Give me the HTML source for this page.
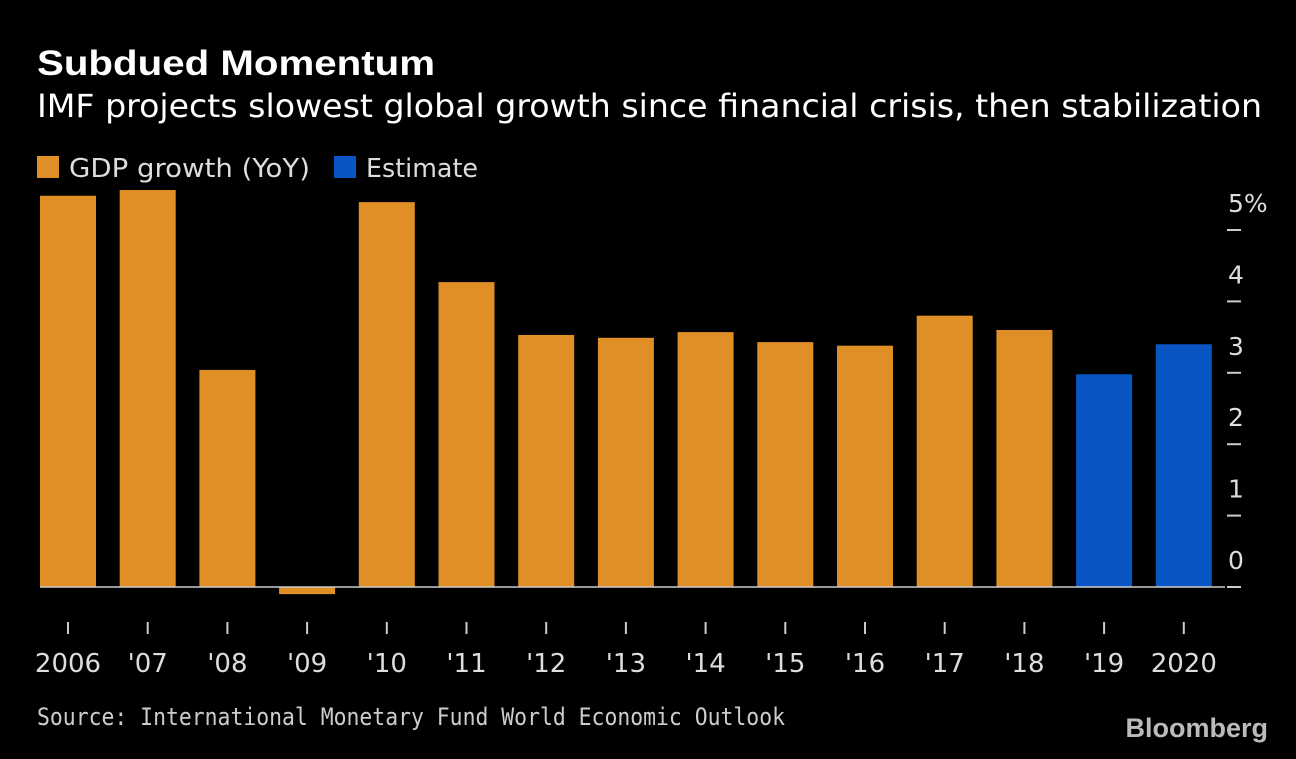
<!DOCTYPE html>
<html><head><meta charset="utf-8"><style>
body{margin:0;background:#000;width:1296px;height:754px;overflow:hidden;font-family:"Liberation Sans","DejaVu Sans",sans-serif;color:#fff}
</style></head><body>
<svg width="1296" height="754">
<text x="37" y="75" font-size="35" font-weight="bold" fill="#fff" textLength="398" lengthAdjust="spacingAndGlyphs">Subdued Momentum</text>
<text x="37" y="117" font-size="32" fill="#fff" font-family="DejaVu Sans" textLength="1225" lengthAdjust="spacingAndGlyphs">IMF projects slowest global growth since financial crisis, then stabilization</text>
<rect x="37" y="156" width="22" height="22" fill="#e08e26"/>
<text x="69" y="177" font-size="26" fill="#ddd" font-family="DejaVu Sans" textLength="241" lengthAdjust="spacingAndGlyphs">GDP growth (YoY)</text>
<rect x="334" y="156" width="22" height="22" fill="#0a55c4"/>
<text x="366" y="177" font-size="26" fill="#ddd" font-family="DejaVu Sans" textLength="112" lengthAdjust="spacingAndGlyphs">Estimate</text>
<g id="plot"></g>
<text x="37" y="725" font-size="24" fill="#ccc" font-family="DejaVu Sans Mono, Liberation Mono, monospace" textLength="748" lengthAdjust="spacingAndGlyphs">Source: International Monetary Fund World Economic Outlook</text>
<text x="1268" y="737" font-size="27" font-weight="bold" fill="#bbb" text-anchor="end">Bloomberg</text>
</svg>
<script>
const categories=["2006","'07","'08","'09","'10","'11","'12","'13","'14","'15","'16","'17","'18","'19","2020"];
const values=[5.48,5.56,3.04,-0.1,5.39,4.27,3.53,3.49,3.57,3.43,3.38,3.80,3.60,2.98,3.40];
const estimate=[0,0,0,0,0,0,0,0,0,0,0,0,0,1,1];
const yTicks=[0,1,2,3,4,5];
const yTickLabels=["0","1","2","3","4","5%"];
const NS="http://www.w3.org/2000/svg";
const g=document.getElementById('plot');
const y=v=>587-v*71.4;
const x=i=>68+i*79.7;
function mk(t,a){const e=document.createElementNS(NS,t);for(const k in a)e.setAttribute(k,a[k]);g.appendChild(e);return e;}
values.forEach((v,i)=>{
 const r=mk('rect',{x:x(i)-28,y:Math.min(y(v),y(0)),width:56,height:Math.abs(y(v)-y(0)),fill:estimate[i]?'#0a55c4':'#e08e26'});
 
 
 const tk=mk('line',{x1:x(i),x2:x(i),y1:622,y2:634,stroke:'#ccc','stroke-width':2});
 
 
 const t=mk('text',{x:x(i),y:672,'font-size':26,fill:'#ddd','text-anchor':'middle','font-family':'DejaVu Sans'});
 t.textContent=categories[i];
 
 
});
const base=mk('line',{x1:40,x2:1225,y1:y(0),y2:y(0),stroke:'#ccc','stroke-width':1.5});


yTicks.forEach((v,i)=>{
 const l=mk('line',{x1:1227,x2:1241,y1:y(v),y2:y(v),stroke:'#ccc','stroke-width':2});
 
 
 const t=mk('text',{x:1228,y:y(v)-18,'font-size':25,fill:'#ddd','font-family':'DejaVu Sans'});
 t.textContent=yTickLabels[i];
 
 
});
</script>
</body></html>
